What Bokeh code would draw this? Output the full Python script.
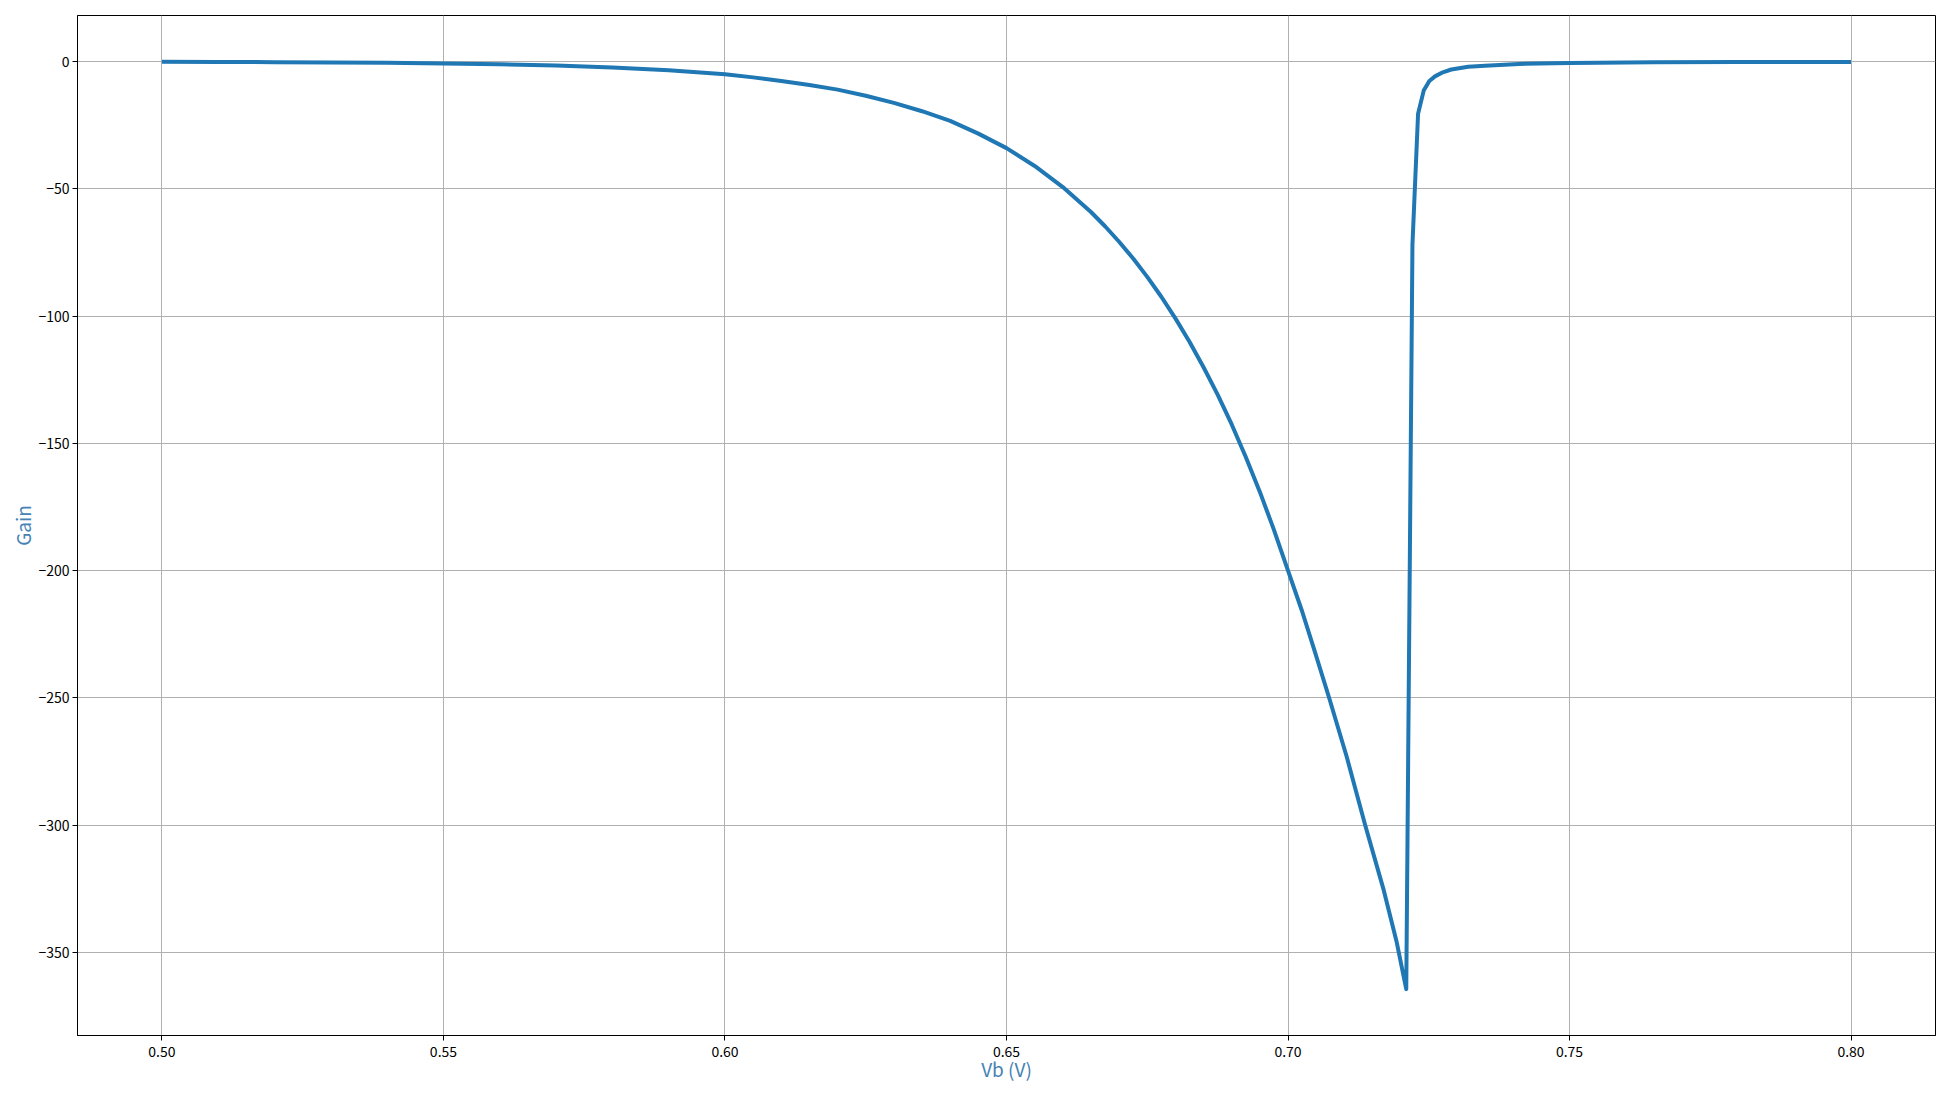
from bokeh.plotting import figure
from bokeh.models import Range1d, FixedTicker, ColumnDataSource
from bokeh.embed import file_html
from bokeh.resources import INLINE

# Data
vb = [0.500, 0.510, 0.520, 0.530, 0.540, 0.550, 0.560, 0.570, 0.580, 0.590,
      0.600, 0.605, 0.610, 0.615, 0.620, 0.625, 0.630, 0.635, 0.640, 0.645,
      0.650, 0.655, 0.660, 0.665, 0.6675, 0.670, 0.6725, 0.675, 0.6775, 0.680,
      0.6825, 0.685, 0.6875, 0.690, 0.6925, 0.695, 0.6975, 0.700, 0.7025,
      0.7045, 0.7073, 0.7104, 0.7137, 0.7170, 0.7193, 0.7210,
      0.7221, 0.7231, 0.7241, 0.7251, 0.7261, 0.7275, 0.7290, 0.7320,
      0.7350, 0.7410, 0.7500, 0.7650, 0.7800, 0.8000]
gain = [-0.1, -0.15, -0.22, -0.32, -0.48, -0.72, -1.05, -1.55, -2.3, -3.4,
        -5.0, -6.2, -7.6, -9.2, -11.0, -13.4, -16.2, -19.5, -23.3, -28.3,
        -34.0, -41.0, -49.3, -59.1, -64.7, -70.8, -77.4, -84.6, -92.4, -100.9,
        -110.1, -120.1, -130.9, -142.6, -155.4, -169.1, -184.0, -200.0, -216.0,
        -230.0, -250.0, -273.0, -300.0, -325.6, -346.0, -364.5,
        -72.0, -20.5, -11.4, -7.6, -5.8, -4.2, -3.1, -2.0,
        -1.6, -0.9, -0.5, -0.3, -0.2, -0.15]

x_ticks = [0.50, 0.55, 0.60, 0.65, 0.70, 0.75, 0.80]
x_tick_labels = ["0.50", "0.55", "0.60", "0.65", "0.70", "0.75", "0.80"]
y_ticks = [0, -50, -100, -150, -200, -250, -300, -350]
y_tick_labels = ["0", "\u221250", "\u2212100", "\u2212150", "\u2212200", "\u2212250", "\u2212300", "\u2212350"]

x_label = "Vb (V)"
y_label = "Gain"

# 5% margins like the original
xmin, xmax = min(vb), max(vb)
ymin, ymax = min(gain), max(gain)
xm = (xmax - xmin) * 0.05
ym = (ymax - ymin) * 0.05

p = figure(width=1950, height=1096, output_backend="svg", toolbar_location=None,
           x_range=Range1d(xmin - xm, xmax + xm), y_range=Range1d(ymin - ym, ymax + ym),
           min_border_left=77, min_border_right=15, min_border_top=15, min_border_bottom=61)

src = ColumnDataSource(data=dict(x=vb, y=gain))
p.line("x", "y", source=src, line_color="#1f77b4", line_width=4, line_join="round")

font = "Noto Sans CJK SC"
for ax in (p.xaxis[0], p.yaxis[0]):
    ax.axis_line_color = "black"
    ax.axis_line_width = 1
    ax.major_tick_line_color = "black"
    ax.major_tick_out = 5
    ax.major_tick_in = 0
    ax.minor_tick_line_color = None
    ax.major_label_text_font = font
    ax.major_label_text_font_size = "14px"
    ax.major_label_text_color = "black"
    ax.axis_label_text_font = font
    ax.axis_label_text_font_size = "19px"
    ax.axis_label_text_font_style = "normal"
    ax.axis_label_text_color = "steelblue"

p.xaxis[0].ticker = FixedTicker(ticks=x_ticks)
p.xaxis[0].major_label_overrides = {t: l for t, l in zip(x_ticks, x_tick_labels)}
p.yaxis[0].ticker = FixedTicker(ticks=y_ticks)
p.yaxis[0].major_label_overrides = {t: l for t, l in zip(y_ticks, y_tick_labels)}
p.xaxis[0].axis_label = x_label
p.yaxis[0].axis_label = y_label
p.xaxis[0].major_label_standoff = 5
p.yaxis[0].major_label_standoff = 3
p.xaxis[0].axis_label_standoff = -5
p.yaxis[0].axis_label_standoff = -1

p.xgrid.grid_line_color = "#b0b0b0"
p.ygrid.grid_line_color = "#b0b0b0"
p.xgrid.grid_line_width = 1
p.ygrid.grid_line_width = 1

p.outline_line_color = "black"
p.outline_line_width = 1
p.outline_line_alpha = 1
p.background_fill_color = "white"
p.border_fill_color = "white"

open("out.html", "w").write(file_html(p, INLINE))
